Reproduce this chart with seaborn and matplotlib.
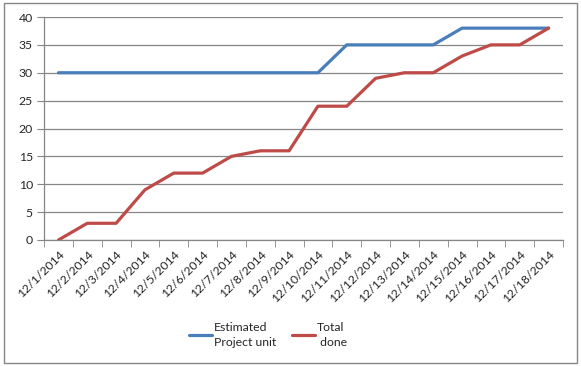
import pandas as pd
import matplotlib.pyplot as plt
import seaborn as sns
from matplotlib.patches import Rectangle
from matplotlib.lines import Line2D

dates = ['12/1/2014', '12/2/2014', '12/3/2014', '12/4/2014', '12/5/2014', '12/6/2014',
         '12/7/2014', '12/8/2014', '12/9/2014', '12/10/2014', '12/11/2014', '12/12/2014',
         '12/13/2014', '12/14/2014', '12/15/2014', '12/16/2014', '12/17/2014', '12/18/2014']
estimated = [30, 30, 30, 30, 30, 30, 30, 30, 30, 30, 35, 35, 35, 35, 38, 38, 38, 38]
total_done = [0, 3, 3, 9, 12, 12, 15, 16, 16, 24, 24, 29, 30, 30, 33, 35, 35, 38]
series_names = ['Estimated\nProject unit', 'Total\n\u00a0done']
colors = ['#4A7EBB', '#BE4B48']

df = pd.DataFrame({'pos': list(range(len(dates))) * 2,
                   'value': estimated + total_done,
                   'series': [series_names[0]] * len(dates) + [series_names[1]] * len(dates)})

sns.set_style('white')
plt.rcParams['font.family'] = ['Lato', 'DejaVu Sans']

fig = plt.figure(figsize=(5.81, 3.66), dpi=100)
ax = fig.add_axes([44 / 581, 1 - 240 / 366, (563 - 44) / 581, (240 - 17) / 366])

sns.lineplot(data=df, x='pos', y='value', hue='series', palette=colors,
             linewidth=2.3, ax=ax, legend=False)

ax.set_xlim(-0.5, len(dates) - 0.5)
ax.set_ylim(0, 40)
ax.set_yticks(range(0, 41, 5))
ax.yaxis.grid(True, color='#868686', linewidth=0.9)
ax.set_axisbelow(True)
ax.set_xlabel('')
ax.set_ylabel('')

ax.set_xticks(range(len(dates)))
ax.set_xticklabels(dates, rotation=45, ha='right', rotation_mode='anchor', fontsize=8.8)
ax.tick_params(axis='x', length=0, pad=6)
ax.set_xticks([i - 0.5 for i in range(len(dates) + 1)], minor=True)
ax.tick_params(axis='x', which='minor', length=5, color='#868686', direction='out', bottom=True)
ax.tick_params(axis='y', labelsize=8.8, length=5, color='#868686', direction='out', left=True, pad=3)

for s in ['top', 'right']:
    ax.spines[s].set_visible(False)
for s in ['left', 'bottom']:
    ax.spines[s].set_color('#868686')
    ax.spines[s].set_linewidth(0.9)

handles = [Line2D([], [], color=c, linewidth=2.3) for c in colors]
leg = fig.legend(handles, series_names, loc='center', bbox_to_anchor=(268 / 581, 1 - 335 / 366),
                 ncol=2, frameon=False, fontsize=8.8, handlelength=1.9, columnspacing=1.3,
                 handletextpad=0.15)
for t in leg.get_texts():
    t.set_linespacing(1.55)

fig.patches.append(Rectangle((4 / 581, 3 / 366), 573 / 581, 360 / 366, transform=fig.transFigure,
                             fill=False, edgecolor='#868686', linewidth=1))

fig.savefig('out.png', dpi=100)
